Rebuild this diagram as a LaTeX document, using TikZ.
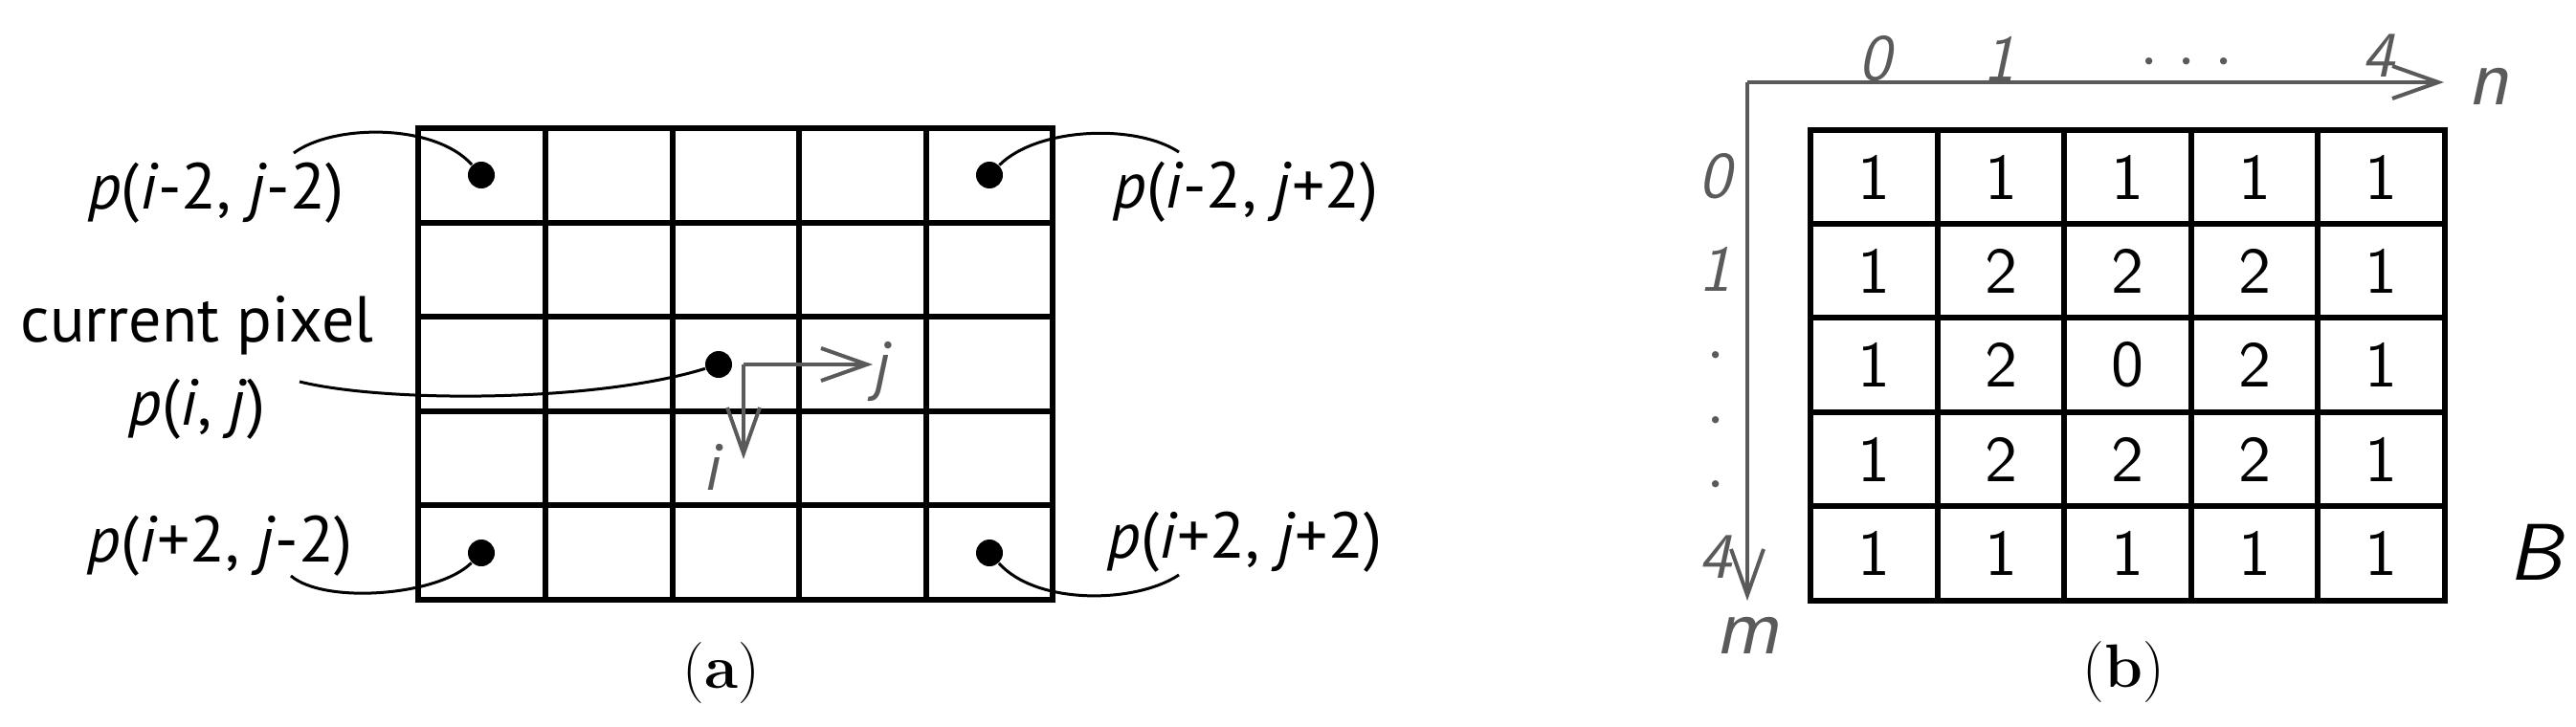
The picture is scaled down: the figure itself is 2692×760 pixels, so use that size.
\documentclass[tikz,border=0pt]{standalone}
\usepackage{amsmath}
\usepackage{amssymb}
\usepackage{fontspec}
\usepackage{tikz}
\usetikzlibrary{arrows.meta}
\newfontfamily\lblfont{PT Sans}
\newfontfamily\numfont{lmsans10-regular.otf}
\newfontfamily\numitfont{lmsans10-oblique.otf}
\definecolor{axgray}{RGB}{90,90,90}

\begin{document}
\begin{tikzpicture}[x=0.25pt,y=0.25pt,yscale=-1,xscale=1,
  cellline/.style={line width=1.65pt},
  pixdot/.style={circle,fill=black,inner sep=0pt,minimum size=7pt},
  leader/.style={line width=0.75pt},
  axline/.style={color=axgray,line width=1pt,-{Straight Barb[length=12pt,width=8.5pt,line width=1pt]}},
  plabel/.style={font=\lblfont\fontsize{17}{21.75}\selectfont,inner sep=0.75pt},
  glabel/.style={font=\lblfont\itshape\fontsize{17}{20}\selectfont,text=axgray,inner sep=0.75pt},
  bnum/.style={font=\numfont\fontsize{17}{20}\selectfont,inner sep=0.75pt},
  axnum/.style={font=\numitfont\fontsize{17}{20}\selectfont,text=axgray,inner sep=0.75pt},
  axlet/.style={font=\numitfont\fontsize{21}{25}\selectfont,text=axgray,inner sep=0.75pt},
  subcap/.style={font=\fontsize{16}{19}\selectfont,inner sep=0.75pt}]
        \useasboundingbox (0,0) rectangle (2692,760);

        %Shape: Grid (a)
        \draw [cellline] (437,134) rectangle (1100,627);
        \draw [cellline] (570,134) -- (570,627);
        \draw [cellline] (703,134) -- (703,627);
        \draw [cellline] (835,134) -- (835,627);
        \draw [cellline] (968,134) -- (968,627);
        \draw [cellline] (437,233) -- (1100,233);
        \draw [cellline] (437,331) -- (1100,331);
        \draw [cellline] (437,430) -- (1100,430);
        \draw [cellline] (437,528) -- (1100,528);

        % Pixel dots
        \node [pixdot] (pTL) at (503,183) {};
        \node [pixdot] (pTR) at (1034,183) {};
        \node [pixdot] (pCur) at (751,381) {};
        \node [pixdot] (pBL) at (503,578) {};
        \node [pixdot] (pBR) at (1034,578) {};

        % Text Node
        \node [plabel] (lTL) at (226,202) {\textit{p}(\textit{i}-2, \textit{j}-2)};
        % Text Node
        \node [plabel] (lTR) at (1302,201) {\textit{p}(\textit{i}-2, \textit{j}+2)};
        % Text Node
        \node [plabel,align=center] (lCur) at (206,384) {current pixel\\\textit{p}(\textit{i}, \textit{j})};
        % Text Node
        \node [plabel] (lBL) at (230,571) {\textit{p}(\textit{i}+2, \textit{j}-2)};
        % Text Node
        \node [plabel] (lBR) at (1301,567) {\textit{p}(\textit{i}+2, \textit{j}+2)};

        %Curve Lines
        \coordinate (cTL) at (307,160);
        \coordinate (cCur) at (313,399);
        \coordinate (cBL) at (304,602);
        \coordinate (cTR) at (1232,159);
        \coordinate (cBR) at (1232,601);
        \draw [leader] (cTL) .. controls +(40,-30) and +(-50,-55) .. (pTL);
        \draw [leader] (cCur) .. controls +(90,22) and +(-130,40) .. (pCur);
        \draw [leader] (cBL) .. controls +(35,30) and +(-45,45) .. (pBL);
        \draw [leader] (pTR) .. controls +(50,-50) and +(-45,-30) .. (cTR);
        \draw [leader] (pBR) .. controls +(50,55) and +(-45,30) .. (cBR);

        %Straight Lines: local axes
        \coordinate (oA) at (777,381);
        \coordinate (jTip) at (912,381);
        \coordinate (iTip) at (777,480);
        \draw [axline] (oA) -- (jTip);
        \draw [axline] (oA) -- (iTip);
        \node [glabel] (lj) at (922,388) {j};
        \node [glabel] (li) at (745,488) {i};

        % Text Node
        \node [subcap] (capA) at (754,704) {(\textbf{a})};

        %Shape: Grid (b)
        \draw [cellline] (1892,136) rectangle (2555,628);
        \draw [cellline] (2025,136) -- (2025,628);
        \draw [cellline] (2157,136) -- (2157,628);
        \draw [cellline] (2290,136) -- (2290,628);
        \draw [cellline] (2422,136) -- (2422,628);
        \draw [cellline] (1892,234) -- (2555,234);
        \draw [cellline] (1892,332) -- (2555,332);
        \draw [cellline] (1892,431) -- (2555,431);
        \draw [cellline] (1892,529) -- (2555,529);

        % Values of B
        \node [bnum] (b00) at (1958,185) {1};
        \node [bnum] (b01) at (2091,185) {1};
        \node [bnum] (b02) at (2223,185) {1};
        \node [bnum] (b03) at (2356,185) {1};
        \node [bnum] (b04) at (2488,185) {1};
        \node [bnum] (b10) at (1958,283) {1};
        \node [bnum] (b11) at (2091,283) {2};
        \node [bnum] (b12) at (2223,283) {2};
        \node [bnum] (b13) at (2356,283) {2};
        \node [bnum] (b14) at (2488,283) {1};
        \node [bnum] (b20) at (1958,381) {1};
        \node [bnum] (b21) at (2091,381) {2};
        \node [bnum] (b22) at (2223,381) {0};
        \node [bnum] (b23) at (2356,381) {2};
        \node [bnum] (b24) at (2488,381) {1};
        \node [bnum] (b30) at (1958,480) {1};
        \node [bnum] (b31) at (2091,480) {2};
        \node [bnum] (b32) at (2223,480) {2};
        \node [bnum] (b33) at (2356,480) {2};
        \node [bnum] (b34) at (2488,480) {1};
        \node [bnum] (b40) at (1958,578) {1};
        \node [bnum] (b41) at (2091,578) {1};
        \node [bnum] (b42) at (2223,578) {1};
        \node [bnum] (b43) at (2356,578) {1};
        \node [bnum] (b44) at (2488,578) {1};

        %Straight Lines: axes of B
        \coordinate (oB) at (1826,86);
        \coordinate (nTip) at (2554,86);
        \coordinate (mTip) at (1826,628);
        \draw [axline] (oB) -- (nTip);
        \draw [axline] (oB) -- (mTip);

        % Text Node
        \node [axnum] (n0) at (1959,61) {0};
        \node [axnum] (n1) at (2089,61) {1};
        \node [axnum] (nd) at (2285,66) {$\cdot$\hspace{5pt}$\cdot$\hspace{5pt}$\cdot$};
        \node [axnum] (n4) at (2485,58) {4};
        \node [axlet] (ln) at (2600,90) {n};
        % Text Node
        \node [axnum] (m0) at (1792,184) {0};
        \node [axnum] (m1) at (1792,281) {1};
        \node [axnum] (md1) at (1793,373) {$\cdot$};
        \node [axnum] (md2) at (1793,441) {$\cdot$};
        \node [axnum] (md3) at (1793,508) {$\cdot$};
        \node [axnum] (m4) at (1792,582) {4};
        \node [axlet] (lm) at (1826,664) {m};
        \node [axlet,text=black] (lB) at (2649,577) {B};

        % Text Node
        \node [subcap] (capB) at (2219,703) {(\textbf{b})};

    \end{tikzpicture}
\end{document}
